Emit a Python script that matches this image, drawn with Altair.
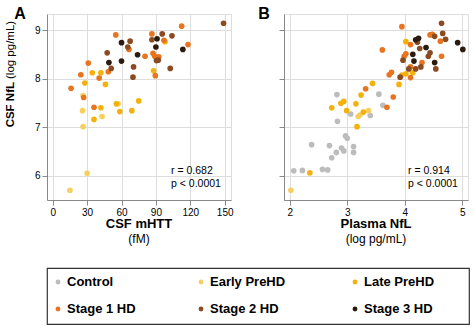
import altair as alt
import pandas as pd

FONT = "Liberation Sans"

groups = ["Control", "Early PreHD", "Late PreHD", "Stage 1 HD", "Stage 2 HD", "Stage 3 HD"]
group_colors = ["#bcbcbc", "#f7cf5c", "#f4b10b", "#e8741f", "#8a4b22", "#2b1a0e"]

# Panel A: CSF mHTT (fM) vs CSF NfL (log pg/mL)
a_mhtt = [149, 112.5, 55, 95.5, 86.5, 91, 104, 86.5, 97, 98, 60, 67.5, 118, 65.5, 66.5,
          90, 113.5, 47.5, 74, 80.5, 87.5, 89, 92.5, 92, 90.5, 60, 49, 31, 70.5, 51,
          102.5, 48.5, 42, 34.5, 88, 24.5, 89.5, 40.5, 70, 28, 46, 16, 26.5, 27, 75,
          55.5, 57, 36, 42, 26, 58.5, 69, 43, 36, 26.5, 30, 15]
a_nfl = [9.14, 9.08, 8.90, 8.92, 8.92, 8.82, 8.88, 8.80, 8.79, 8.76, 8.74, 8.77, 8.70, 8.65, 8.60,
         8.65, 8.60, 8.53, 8.49, 8.46, 8.52, 8.46, 8.45, 8.38, 8.37, 8.36, 8.33, 8.32, 8.24, 8.21,
         8.21, 8.14, 8.12, 8.12, 8.16, 8.08, 8.06, 8.01, 8.03, 7.91, 7.88, 7.80, 7.65, 7.61, 7.54,
         7.48, 7.48, 7.41, 7.40, 7.34, 7.32, 7.34, 7.22, 7.16, 7.01, 6.05, 5.70]
a_group = ["Stage 2 HD", "Stage 1 HD", "Stage 1 HD", "Stage 2 HD", "Stage 1 HD", "Stage 3 HD",
           "Stage 2 HD", "Stage 2 HD", "Stage 1 HD", "Late PreHD", "Stage 3 HD", "Stage 2 HD",
           "Stage 1 HD", "Stage 2 HD", "Stage 1 HD", "Stage 3 HD", "Stage 3 HD", "Stage 2 HD",
           "Stage 3 HD", "Stage 1 HD", "Stage 1 HD", "Stage 1 HD", "Stage 1 HD", "Stage 2 HD",
           "Stage 2 HD", "Stage 3 HD", "Stage 3 HD", "Stage 1 HD", "Stage 2 HD", "Stage 2 HD",
           "Stage 2 HD", "Stage 1 HD", "Late PreHD", "Late PreHD", "Late PreHD", "Stage 1 HD",
           "Stage 1 HD", "Stage 1 HD", "Stage 2 HD", "Late PreHD", "Late PreHD", "Stage 1 HD",
           "Early PreHD", "Stage 1 HD", "Late PreHD", "Late PreHD", "Early PreHD", "Stage 1 HD",
           "Late PreHD", "Early PreHD", "Late PreHD", "Late PreHD", "Early PreHD", "Late PreHD",
           "Early PreHD", "Early PreHD", "Early PreHD"]

# Panel B: Plasma NfL (log pg/mL) vs CSF NfL (log pg/mL)
b_plasma = [2.07, 2.22, 2.38, 2.57, 2.66, 2.69, 2.73, 2.81, 2.90, 2.94, 2.97, 3.00, 3.11, 3.11,
            2.83, 2.82, 3.06, 3.40, 3.55, 3.62,
            2.02, 3.19, 3.22, 3.37,
            2.35, 2.73, 2.89, 2.94, 2.99, 3.15, 3.24, 3.17, 3.28, 3.44, 3.90, 3.95, 4.02, 4.14, 4.02,
            3.32, 3.69, 3.73, 3.77, 3.80, 3.61, 3.95, 4.44, 4.48, 4.62, 4.10, 3.99, 4.02, 4.10,
            4.10, 4.64, 4.30,
            4.64, 4.66, 4.71, 4.52, 4.22, 4.26, 4.44, 4.41, 4.54, 3.97, 4.28, 4.19, 4.07, 3.92,
            4.92, 5.01, 4.19, 4.24, 4.37, 4.52, 4.14, 4.16]
b_nfl = [6.10, 6.11, 6.64, 6.13, 6.12, 6.62, 6.37, 6.48, 6.57, 6.51, 6.82, 6.77, 6.60, 6.48,
         7.12, 7.67, 7.27, 7.24, 7.68, 7.45,
         5.70, 7.22, 7.25, 7.34,
         6.06, 7.40, 7.49, 7.53, 7.34, 7.48, 7.66, 7.01, 7.31, 7.90, 7.88, 8.07, 8.10, 8.12, 8.76,
         7.79, 7.41, 8.08, 8.13, 7.62, 8.59, 9.07, 8.90, 8.91, 8.77, 8.70, 8.46, 8.51, 8.24,
         8.02, 8.46, 8.33,
         9.14, 8.93, 8.81, 8.87, 8.75, 8.62, 8.53, 8.46, 8.20, 8.38, 8.24, 8.20, 8.20, 8.03,
         8.74, 8.60, 8.80, 8.83, 8.64, 8.33, 8.50, 8.36]
b_group = (["Control"] * 20 + ["Early PreHD"] * 4 + ["Late PreHD"] * 15 +
           ["Stage 1 HD"] * 17 + ["Stage 2 HD"] * 14 + ["Stage 3 HD"] * 8)

y_ticks = [6, 7, 8, 9]
a_ticks = [0, 30, 60, 90, 120, 150]
b_ticks = [2, 3, 4, 5]

legend_cols = [0, 1, 2, 0, 1, 2]
legend_rows = [0, 0, 0, 1, 1, 1]

W, H = 184, 186
color_scale = alt.Scale(domain=groups, range=group_colors)
order_map = {g: i for i, g in enumerate(groups)}


def text_layer(txt, x, y, size=12, weight="normal", align="center", baseline="middle",
               angle=0, opacity=1):
    kw = dict(text=txt, font=FONT, fontSize=size, fontWeight=weight, align=align,
              baseline=baseline, color="black", opacity=opacity)
    if angle:
        kw["angle"] = angle
    return alt.Chart(pd.DataFrame({"k": [0]})).mark_text(**kw).encode(
        x=alt.value(x), y=alt.value(y))


def ytitle(opacity=1):
    return [text_layer("CSF NfL", -36, 68, size=11.5, weight="bold", align="right",
                       angle=270, opacity=opacity),
            text_layer("(log pg/mL)", -36, 65, size=11.5, align="left", angle=270,
                       opacity=opacity)]


def panel(df, xfield, xdomain, xticks, letter, letter_x, t1, t2, r_txt, ylabels, extra=()):
    df = df.copy()
    df["ord"] = df["group"].map(order_map)
    pts = alt.Chart(df).mark_circle(size=32, opacity=1).encode(
        x=alt.X(f"{xfield}:Q",
                scale=alt.Scale(domain=xdomain, nice=False, zero=False),
                axis=alt.Axis(values=xticks, title=None, format="d")),
        y=alt.Y("nfl:Q", scale=alt.Scale(domain=[5.5, 9.33], nice=False, zero=False),
                axis=alt.Axis(values=y_ticks, title=None, labels=ylabels)),
        color=alt.Color("group:N", scale=color_scale, legend=None),
        order=alt.Order("ord:Q"),
    )
    layers = [pts,
              text_layer(letter, letter_x, 5, size=16, weight="bold", baseline="alphabetic"),
              text_layer(t1, W / 2, 210, size=13, weight="bold"),
              text_layer(t2, W / 2, 225, size=12),
              text_layer(r_txt, 124, 157, size=10.5, align="left"),
              text_layer("p < 0.0001", 124, 170, size=10.5, align="left")] + list(extra)
    return alt.layer(*layers).properties(width=W, height=H)


df_a = pd.DataFrame({"mhtt": a_mhtt, "nfl": a_nfl, "group": a_group})
df_b = pd.DataFrame({"plasma": b_plasma, "nfl": b_nfl, "group": b_group})

pa = panel(df_a, "mhtt", [-5, 155.5], a_ticks, "A", -27, "CSF mHTT", "(fM)", "r = 0.682", True,
           ytitle())
pb = panel(df_b, "plasma", [1.9, 5.1], b_ticks, "B", -20, "Plasma NfL", "(log pg/mL)",
           "r = 0.914", False)

df_leg = pd.DataFrame({"group": groups, "col": legend_cols, "row": legend_rows})
leg_base = alt.Chart(df_leg).encode(
    x=alt.X("col:Q", scale=alt.Scale(domain=[0, 1, 2], range=[11, 154, 308]), axis=None),
    y=alt.Y("row:Q", scale=alt.Scale(domain=[0, 1], range=[14, 41]), axis=None),
)
legend = alt.layer(
    leg_base.mark_circle(size=24, opacity=1).encode(
        color=alt.Color("group:N", scale=color_scale, legend=None)),
    leg_base.mark_text(align="left", baseline="middle", dx=9, font=FONT, fontSize=13,
                       fontWeight="bold", color="black").encode(text="group:N"),
    *ytitle(opacity=0),
).properties(width=422, height=56, view=alt.ViewBackground(stroke="#333333", strokeWidth=1.2))

top = alt.hconcat(pa, pb, spacing=53, bounds="flush")
chart = alt.vconcat(top, legend, spacing=21).properties(
    padding={"left": 4, "top": 5, "right": 0, "bottom": 0}
).configure_view(stroke=None).configure_axis(
    grid=False, labelFont=FONT, labelFontSize=13, labelColor="black",
    domainColor="black", tickColor="black", tickSize=6, labelPadding=2,
    domainWidth=1, tickWidth=1
).configure(background="white")

chart.save("out.html", embed_options={"renderer": "svg", "actions": False})
